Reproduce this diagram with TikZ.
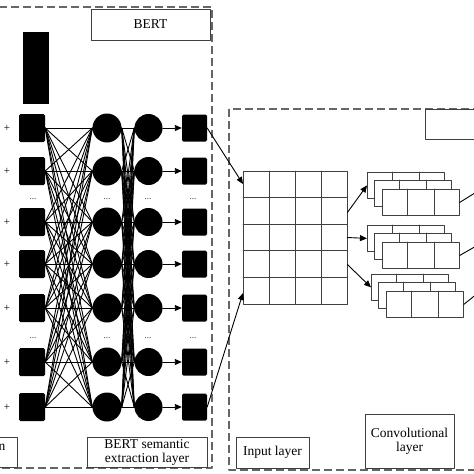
\documentclass[tikz,border=0pt]{standalone}
\usepackage{fontspec}
\setmainfont{Liberation Serif}
\usetikzlibrary{arrows.meta}
\begin{document}
\begin{tikzpicture}[line cap=round,line join=round,x=1pt,y=-1pt,>={Triangle[length=7pt,width=6pt]},
  sqr/.style={fill=black,rounded corners=1.5pt,inner sep=0,minimum width=26,minimum height=28},
  neuron/.style={circle,fill=black,inner sep=0,minimum size=29},
  lnk/.style={line width=0.9pt},
  dbox/.style={draw=black!60,dash pattern=on 8pt off 4pt,line width=1.2pt,line cap=butt},
  lbl/.style={draw=black!75,line width=1pt,inner sep=0,align=center,font=\fontsize{13.5}{14}\selectfont},
  fm/.style={draw=black!75,line width=0.8pt,fill=white,inner sep=0,minimum width=77,minimum height=26},
  dots/.style={font=\fontsize{9}{9}\selectfont,text=black!85}]
\clip (0,0) rectangle (474,474);
% two dashed frames
\draw [dbox] (-5,7) rectangle (212,468);
\draw [dbox] (229,109) rectangle (480,470);
\node [lbl,minimum width=119,minimum height=31] (bert) at (150.5,24.5) {BERT};
\node [lbl,minimum width=60,minimum height=30] (top) at (455,124) {};
\node [fill=black,inner sep=0,minimum width=26,minimum height=72] (cls) at (36,68) {};
% BERT layers
\foreach \y [count=\i] in {128,171,222,264,308,362,407} {
  \node [font=\fontsize{11}{11}\selectfont] (p\i) at (7,\y) {+};
  \node [sqr] (s\i) at (32,\y) {};
  \node [neuron] (a\i) at (107,\y) {};
  \node [neuron,minimum size=28] (b\i) at (148.5,\y) {};
  \node [sqr,minimum width=25,minimum height=27] (t\i) at (194.5,\y) {};
}
\foreach \i in {1,...,7} {
  \foreach \j in {1,...,7} {
    \draw [lnk] (s\i.east) -- (a\j.west);
    \draw [lnk] (a\i.east) -- (b\j.west);
  }
  \draw [lnk,->] (b\i) -- (t\i);
}
\foreach \x in {33,107,148,193} {
  \node [dots] at (\x,199) {...};
  \node [dots] at (\x,338) {...};
}
% input layer grid
\node [draw=black!75,line width=0.8pt,inner sep=0,minimum width=104,minimum height=133] (grid) at (295,237.5) {};
\foreach \x in {269,295,321} \draw [black!75,line width=0.8pt] (\x,171) -- (\x,304);
\foreach \y in {197.6,224.2,250.8,277.4} \draw [black!75,line width=0.8pt] (243,\y) -- (347,\y);
\coordinate (gin1) at (243,184);
\coordinate (gin2) at (243,293);
\draw [lnk,->] (t1.east) -- (gin1);
\draw [lnk,->] (t7.east) -- (gin2);
% feature maps
\foreach \x/\y [count=\k] in {367/172,367/225,371/274} {
  \foreach \n/\dx/\dy in {a/0/0,b/7/8,c/15/17} {
    \node [fm,anchor=north west] (f\k\n) at (\x+\dx,\y+\dy) {};
    \draw [black!75,line width=0.8pt] ([xshift=25.7pt]f\k\n.north west) -- ([xshift=25.7pt]f\k\n.south west);
    \draw [black!75,line width=0.8pt] ([xshift=-25.7pt]f\k\n.north east) -- ([xshift=-25.7pt]f\k\n.south east);
  }
}
\draw [lnk,->] ([yshift=25pt]grid.east) -- (f1a.west);
\draw [lnk,->] (grid.east) -- (f2a.west);
\draw [lnk,->] ([yshift=-27pt]grid.east) -- (f3a.west);
\coordinate (o1) at (478,191);
\coordinate (o2) at (478,245);
\coordinate (o3) at (478,293);
\draw [lnk] (f1c.east) -- (o1);
\draw [lnk] (f2c.east) -- (o2);
\draw [lnk] (f3c.east) -- (o3);
% captions
\node [lbl,minimum width=60,minimum height=30,anchor=east] (emb) at (18,452) {};
\node [anchor=base east,font=\fontsize{13.5}{14}\selectfont] at (9,450) {n};
\node [lbl,minimum width=120,minimum height=30] (sem) at (147,452) {BERT semantic\\extraction layer};
\node [lbl,minimum width=73,minimum height=31] (inp) at (272.5,452.5) {Input layer};
\node [lbl,minimum width=89,minimum height=54] (conv) at (409.5,441) {Convolutional\\layer};
\end{tikzpicture}
\end{document}
